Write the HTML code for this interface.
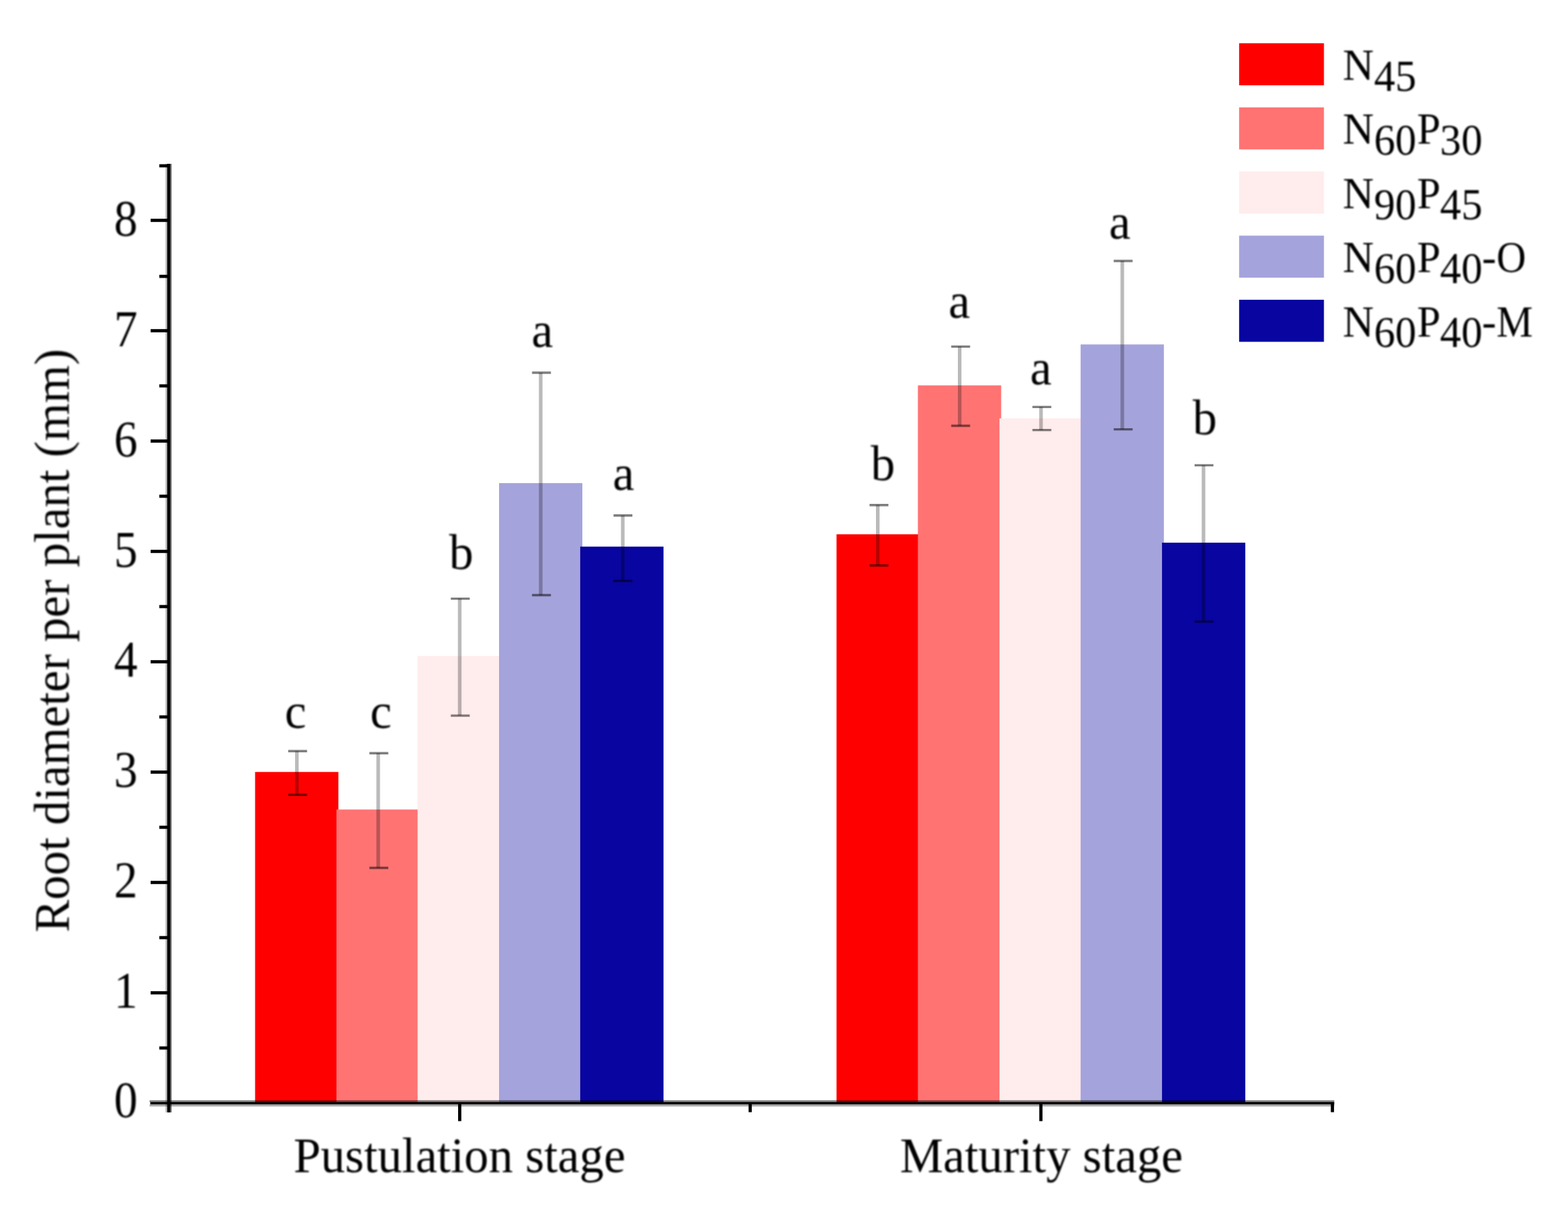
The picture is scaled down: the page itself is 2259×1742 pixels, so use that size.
<!DOCTYPE html>
<html lang="en"><head><meta charset="utf-8"><title>Root diameter per plant</title>
<style>html,body{margin:0;padding:0;background:#fff;}body{width:2259px;height:1742px;overflow:hidden;}svg{display:block;font-family:"Liberation Serif",serif;}text{fill:#000;}#labels{filter:blur(0.8px);}</style>
</head><body>
<svg width="2259" height="1742" viewBox="0 0 2259 1742" role="img" aria-label="Bar chart of root diameter per plant">
<rect x="0" y="0" width="2259" height="1742" fill="#fff"/>
<g id="bars">
<rect x="367.5" y="1112.3" width="120.0" height="477.2" fill="#FF0000"/>
<rect x="484.7" y="1166.4" width="120.0" height="423.1" fill="#FF7373"/>
<rect x="601.6" y="945.3" width="120.0" height="644.2" fill="#FFECEC"/>
<rect x="719.0" y="696.1" width="120.0" height="893.4" fill="#A5A3DC"/>
<rect x="835.9" y="787.6" width="120.0" height="801.9" fill="#0805A0"/>
<rect x="1205.2" y="769.8" width="120.0" height="819.7" fill="#FF0000"/>
<rect x="1322.4" y="555.3" width="120.0" height="1034.2" fill="#FF7373"/>
<rect x="1439.9" y="602.8" width="120.0" height="986.7" fill="#FFECEC"/>
<rect x="1556.8" y="496.3" width="120.0" height="1093.2" fill="#A5A3DC"/>
<rect x="1674.1" y="781.9" width="120.0" height="807.6" fill="#0805A0"/>
</g>
<g id="errors" stroke="#000" fill="none">
<path d="M427.7 1082.2V1145.3" stroke-width="5.2" stroke-opacity="0.27"/>
<path d="M415.2 1082.2H442.4M415.2 1145.3H442.4" stroke-width="3.4" stroke-opacity="0.50"/>
<path d="M544.9 1085.3V1250.5" stroke-width="5.2" stroke-opacity="0.27"/>
<path d="M532.2 1085.3H559.4M532.2 1250.5H559.4" stroke-width="3.4" stroke-opacity="0.50"/>
<path d="M662.3 862.6V1031.1" stroke-width="5.2" stroke-opacity="0.27"/>
<path d="M649.5 862.6H676.7M649.5 1031.1H676.7" stroke-width="3.4" stroke-opacity="0.50"/>
<path d="M779.0 537.0V857.5" stroke-width="5.2" stroke-opacity="0.27"/>
<path d="M766.5 537.0H793.7M766.5 857.5H793.7" stroke-width="3.4" stroke-opacity="0.50"/>
<path d="M897.2 742.7V837.0" stroke-width="5.2" stroke-opacity="0.27"/>
<path d="M883.9 742.7H911.1M883.9 837.0H911.1" stroke-width="3.4" stroke-opacity="0.50"/>
<path d="M1264.6 727.7V814.7" stroke-width="5.2" stroke-opacity="0.27"/>
<path d="M1252.7 727.7H1279.9M1252.7 814.7H1279.9" stroke-width="3.4" stroke-opacity="0.50"/>
<path d="M1382.6 499.4V613.5" stroke-width="5.2" stroke-opacity="0.27"/>
<path d="M1370.4 499.4H1397.6M1370.4 613.5H1397.6" stroke-width="3.4" stroke-opacity="0.50"/>
<path d="M1499.8 586.4V619.6" stroke-width="5.2" stroke-opacity="0.27"/>
<path d="M1487.4 586.4H1514.6M1487.4 619.6H1514.6" stroke-width="3.4" stroke-opacity="0.50"/>
<path d="M1616.9 376.0V618.6" stroke-width="5.2" stroke-opacity="0.27"/>
<path d="M1604.5 376.0H1631.7M1604.5 618.6H1631.7" stroke-width="3.4" stroke-opacity="0.50"/>
<path d="M1733.9 670.4V895.6" stroke-width="5.2" stroke-opacity="0.27"/>
<path d="M1721.0 670.4H1748.2M1721.0 895.6H1748.2" stroke-width="3.4" stroke-opacity="0.50"/>
</g>
<g id="axes">
<rect x="215.5" y="1585.4" width="1706.8" height="2.7" fill="#000" fill-opacity="0.52"/>
<rect x="216.5" y="1588.0" width="1705.8" height="3.3" fill="#000"/>
<rect x="215.5" y="1591.3" width="1706.8" height="3.0" fill="#000" fill-opacity="0.33"/>
<rect x="238.6" y="236.0" width="2.5" height="1366.8" fill="#000" fill-opacity="0.32"/>
<rect x="241.0" y="236.0" width="4.3" height="1366.8" fill="#000"/>
<rect x="245.3" y="236.0" width="1.8" height="1366.8" fill="#000" fill-opacity="0.65"/>
</g>
<g id="ticks" stroke="#000" stroke-width="4.6" fill="none">
<path d="M229.5 1510.0H241.5"/>
<path d="M217.0 1430.5H241.5"/>
<path d="M229.5 1351.0H241.5"/>
<path d="M217.0 1271.5H241.5"/>
<path d="M229.5 1192.0H241.5"/>
<path d="M217.0 1112.5H241.5"/>
<path d="M229.5 1033.0H241.5"/>
<path d="M217.0 953.5H241.5"/>
<path d="M229.5 874.0H241.5"/>
<path d="M217.0 794.5H241.5"/>
<path d="M229.5 715.0H241.5"/>
<path d="M217.0 635.5H241.5"/>
<path d="M229.5 556.0H241.5"/>
<path d="M217.0 476.5H241.5"/>
<path d="M229.5 398.2H241.5"/>
<path d="M217.0 317.5H241.5"/>
<path d="M229.5 238.9H241.5"/>
<path d="M662.3 1589.5V1615.4"/>
<path d="M1080.8 1589.5V1602.5"/>
<path d="M1499.6 1589.5V1615.4"/>
<path d="M1919.6 1589.5V1602.5"/>
</g>
<g id="labels">
<g id="ylabels">
<text transform="translate(198.2 1609.9) scale(0.97 1.05)" font-size="70" text-anchor="end">0</text>
<text transform="translate(198.2 1451.9) scale(0.97 1.05)" font-size="70" text-anchor="end">1</text>
<text transform="translate(198.2 1292.9) scale(0.97 1.05)" font-size="70" text-anchor="end">2</text>
<text transform="translate(198.2 1133.8) scale(0.97 1.05)" font-size="70" text-anchor="end">3</text>
<text transform="translate(198.2 974.5) scale(0.97 1.05)" font-size="70" text-anchor="end">4</text>
<text transform="translate(198.2 816.9) scale(0.97 1.05)" font-size="70" text-anchor="end">5</text>
<text transform="translate(198.2 657.8) scale(0.97 1.05)" font-size="70" text-anchor="end">6</text>
<text transform="translate(198.2 498.8) scale(0.97 1.05)" font-size="70" text-anchor="end">7</text>
<text transform="translate(198.2 339.5) scale(0.97 1.05)" font-size="70" text-anchor="end">8</text>
</g>
<g id="titles">
<text transform="translate(662.0 1689.3) scale(1.004 1.035)" font-size="70" text-anchor="middle">Pustulation stage</text>
<text transform="translate(1500.3 1689.3) scale(1.004 1.035)" font-size="70" text-anchor="middle">Maturity stage</text>
<text transform="translate(99.4 923.0) rotate(-90) scale(1.006 1.035)" font-size="70" text-anchor="middle">Root diameter per plant (mm)</text>
</g>
<g id="letters">
<text transform="translate(425.8 1049.0) scale(1 1.035)" font-size="70" text-anchor="middle">c</text>
<text transform="translate(548.7 1049.0) scale(1 1.035)" font-size="70" text-anchor="middle">c</text>
<text transform="translate(664.6 819.6) scale(1 1.035)" font-size="70" text-anchor="middle">b</text>
<text transform="translate(781.4 500.4) scale(1 1.035)" font-size="70" text-anchor="middle">a</text>
<text transform="translate(898.4 706.4) scale(1 1.035)" font-size="70" text-anchor="middle">a</text>
<text transform="translate(1272.0 691.8) scale(1 1.035)" font-size="70" text-anchor="middle">b</text>
<text transform="translate(1382.0 457.6) scale(1 1.035)" font-size="70" text-anchor="middle">a</text>
<text transform="translate(1499.5 553.7) scale(1 1.035)" font-size="70" text-anchor="middle">a</text>
<text transform="translate(1613.3 343.6) scale(1 1.035)" font-size="70" text-anchor="middle">a</text>
<text transform="translate(1735.8 626.4) scale(1 1.035)" font-size="70" text-anchor="middle">b</text>
</g>
<g id="legend">
<text transform="translate(0 115.0) scale(1 1.025)" font-size="62"><tspan x="1934.6" y="0.00">N</tspan><tspan x="1979.6" y="15.41" textLength="61.07" lengthAdjust="spacingAndGlyphs">45</tspan></text>
<text transform="translate(0 207.4) scale(1 1.025)" font-size="62"><tspan x="1934.6" y="0.00">N</tspan><tspan x="1979.6" y="15.41" textLength="61.07" lengthAdjust="spacingAndGlyphs">60</tspan><tspan x="2041.4" y="0.00" textLength="33.79" lengthAdjust="spacingAndGlyphs">P</tspan><tspan x="2074.6" y="15.41" textLength="61.07" lengthAdjust="spacingAndGlyphs">30</tspan></text>
<text transform="translate(0 299.8) scale(1 1.025)" font-size="62"><tspan x="1934.6" y="0.00">N</tspan><tspan x="1979.6" y="15.41" textLength="61.07" lengthAdjust="spacingAndGlyphs">90</tspan><tspan x="2041.4" y="0.00" textLength="33.79" lengthAdjust="spacingAndGlyphs">P</tspan><tspan x="2074.6" y="15.41" textLength="61.07" lengthAdjust="spacingAndGlyphs">45</tspan></text>
<text transform="translate(0 392.2) scale(1 1.025)" font-size="62"><tspan x="1934.6" y="0.00">N</tspan><tspan x="1979.6" y="15.41" textLength="61.07" lengthAdjust="spacingAndGlyphs">60</tspan><tspan x="2041.4" y="0.00" textLength="33.79" lengthAdjust="spacingAndGlyphs">P</tspan><tspan x="2074.6" y="15.41" textLength="61.07" lengthAdjust="spacingAndGlyphs">40</tspan><tspan x="2135.0" y="0.00">-</tspan><tspan x="2156.0" y="0.00" textLength="42.54" lengthAdjust="spacingAndGlyphs">O</tspan></text>
<text transform="translate(0 484.6) scale(1 1.025)" font-size="62"><tspan x="1934.6" y="0.00">N</tspan><tspan x="1979.6" y="15.41" textLength="61.07" lengthAdjust="spacingAndGlyphs">60</tspan><tspan x="2041.4" y="0.00" textLength="33.79" lengthAdjust="spacingAndGlyphs">P</tspan><tspan x="2074.6" y="15.41" textLength="61.07" lengthAdjust="spacingAndGlyphs">40</tspan><tspan x="2135.0" y="0.00">-</tspan><tspan x="2156.0" y="0.00" textLength="52.37" lengthAdjust="spacingAndGlyphs">M</tspan></text>
</g>
</g>
<g id="swatches">
<rect x="1785.2" y="62.3" width="122.2" height="60.6" fill="#FF0000"/>
<rect x="1785.2" y="154.7" width="122.2" height="60.6" fill="#FF7373"/>
<rect x="1785.2" y="247.1" width="122.2" height="60.6" fill="#FFECEC"/>
<rect x="1785.2" y="339.5" width="122.2" height="60.6" fill="#A5A3DC"/>
<rect x="1785.2" y="431.9" width="122.2" height="60.6" fill="#0805A0"/>
</g>
</svg>
</body></html>
